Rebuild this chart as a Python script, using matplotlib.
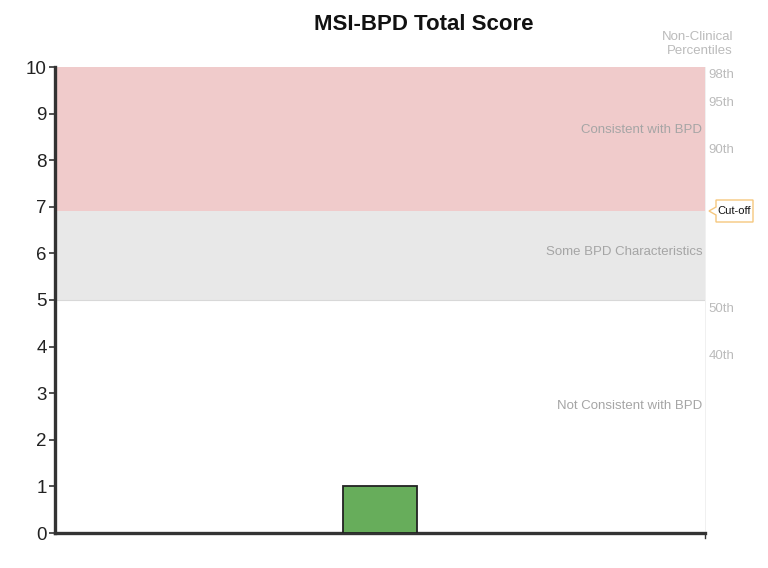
import matplotlib
matplotlib.use("Agg")
import matplotlib.pyplot as plt
from matplotlib.patches import Polygon

plt.rcParams['font.family'] = ['Liberation Sans', 'DejaVu Sans']

categories = ["Total"]
scores = [1]
cutoff = 6.9
bands = [(6.9, 10, "#f0cbcb"), (5, 6.9, "#e8e8e8")]
band_labels = ["Consistent with BPD", "Some BPD Characteristics", "Not Consistent with BPD"]
band_label_y = [8.65, 6.03, 2.73]
pct_labels = ["98th", "95th", "90th", "50th", "40th"]
pct_values = [9.83, 9.23, 8.22, 4.81, 3.80]
yticks = list(range(0, 11))

W, H = 768, 568
fig = plt.figure(figsize=(W / 100, H / 100), dpi=100)
L, R, T, B = 55, 705, 67, 533
ax = fig.add_axes([L / W, 1 - B / H, (R - L) / W, (B - T) / H])

for lo, hi, c in bands:
    ax.axhspan(lo, hi, color=c, lw=0, zorder=0)
ax.axhline(5, color="#d8d8d8", lw=0.8, zorder=1)

ax.bar([0], scores, width=0.114, color="#67ad5b", edgecolor="#222222", linewidth=1.3, zorder=3)
ax.set_xlim(-0.5, 0.5)
ax.set_ylim(0, 10)
ax.set_xticks([])
ax.set_yticks(yticks)
ax.tick_params(axis="y", labelsize=13.5, colors="#333333", length=4, width=1.2, pad=2)
for lab in ax.get_yticklabels():
    lab.set_color("#222222")

ax.spines["top"].set_visible(False)
ax.spines["right"].set_color("#f0f0f0")
ax.spines["right"].set_linewidth(0.7)
for s in ["left", "bottom"]:
    ax.spines[s].set_color("#333333")
    ax.spines[s].set_linewidth(2.4)

# small tick at right end of x axis
ax.plot([0.5, 0.5], [0, -0.1], color="#333333", lw=1.0, clip_on=False)

for txt, y in zip(band_labels, band_label_y):
    ax.text(0.496, y, txt, ha="right", va="center", fontsize=9.5, color="#a5a5a5", zorder=4)

for txt, y in zip(pct_labels, pct_values):
    ax.text(0.505, y, txt, ha="left", va="center", fontsize=9.5, color="#bbbbbb", clip_on=False)

fig.text(733 / W, 1 - 44 / H, "Non-Clinical\nPercentiles", ha="right", va="center",
         fontsize=9.5, color="#bbbbbb", linespacing=1.15)

fig.text(424 / W, 1 - 25 / H, "MSI-BPD Total Score", ha="center", va="center",
         fontsize=16, fontweight="bold", color="#111111")

# Cut-off callout
fx = lambda px: px / W
fy = lambda py: 1 - py / H
poly = Polygon([(fx(716), fy(200)), (fx(753), fy(200)), (fx(753), fy(222)), (fx(716), fy(222)),
                (fx(716), fy(215)), (fx(709), fy(211)), (fx(716), fy(207))],
               closed=True, transform=fig.transFigure, facecolor="white",
               edgecolor="#f5c77e", linewidth=1.0)
fig.patches.append(poly)
fig.text(fx(734.5), fy(211.5), "Cut-off", ha="center", va="center", fontsize=8, color="#111111")

fig.savefig("out.png", dpi=100)
